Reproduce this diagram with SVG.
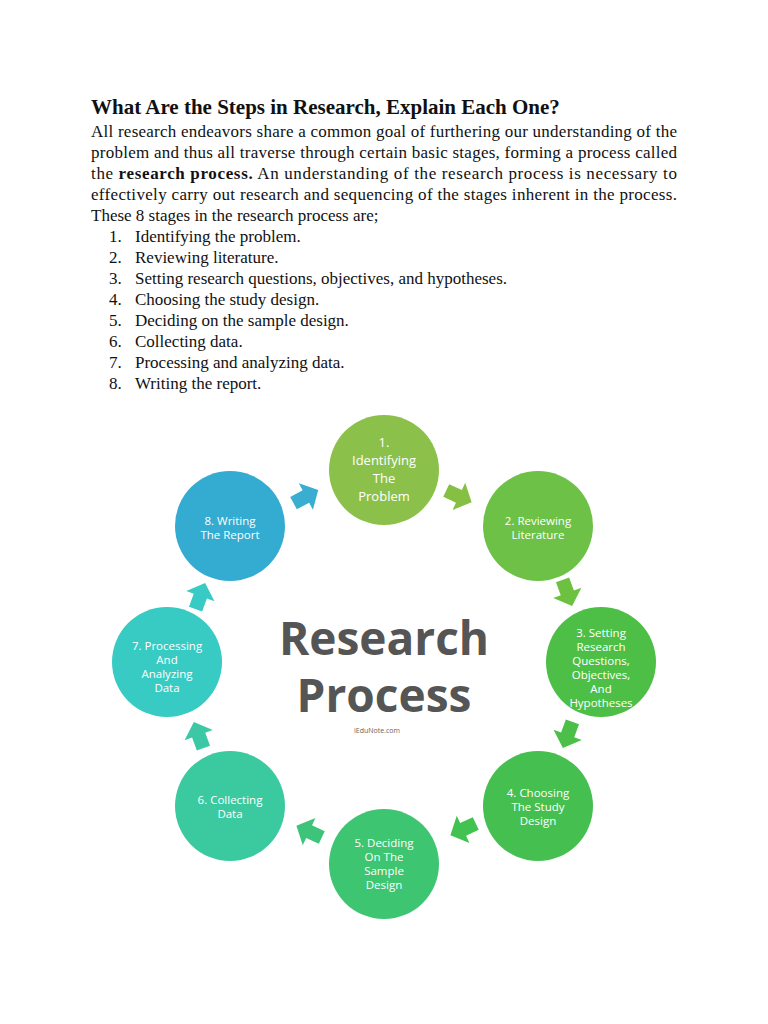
<svg xmlns="http://www.w3.org/2000/svg" width="768" height="1024" viewBox="0 0 768 1024">
<style>
.t{font-family:"Liberation Serif",serif;font-size:17px;fill:#111}
.h{font-family:"Liberation Serif",serif;font-size:21px;font-weight:bold;fill:#111}
.c{font-family:"Open Sans","Noto Sans",sans-serif;font-size:11.5px;fill:#fff;text-anchor:middle}
.big{font-family:"Open Sans","Noto Sans",sans-serif;font-weight:bold;font-size:46px;fill:#555;text-anchor:middle}
</style>
<defs>
<path id="arr" d="M-13,-7 L1,-7 L1,-15 L15,0 L1,15 L1,7 L-13,7 Z"/>
</defs>
<rect width="768" height="1024" fill="#fff"/>
<text class="h" x="91" y="114">What Are the Steps in Research, Explain Each One?</text>
<text class="t" x="91" y="137" textLength="586" lengthAdjust="spacing">All research endeavors share a common goal of furthering our understanding of the</text>
<text class="t" x="91" y="158" textLength="586" lengthAdjust="spacing">problem and thus all traverse through certain basic stages, forming a process called</text>
<text class="t" x="91" y="179" textLength="586" lengthAdjust="spacing">the <tspan font-weight="bold">research process.</tspan> An understanding of the research process is necessary to</text>
<text class="t" x="91" y="200" textLength="586" lengthAdjust="spacing">effectively carry out research and sequencing of the stages inherent in the process.</text>
<text class="t" x="91" y="221">These 8 stages in the research process are;</text>
<g id="list">
<text class="t" x="109" y="242">1.</text><text class="t" x="135" y="242">Identifying the problem.</text>
<text class="t" x="109" y="263">2.</text><text class="t" x="135" y="263">Reviewing literature.</text>
<text class="t" x="109" y="284">3.</text><text class="t" x="135" y="284">Setting research questions, objectives, and hypotheses.</text>
<text class="t" x="109" y="305">4.</text><text class="t" x="135" y="305">Choosing the study design.</text>
<text class="t" x="109" y="326">5.</text><text class="t" x="135" y="326">Deciding on the sample design.</text>
<text class="t" x="109" y="347">6.</text><text class="t" x="135" y="347">Collecting data.</text>
<text class="t" x="109" y="368">7.</text><text class="t" x="135" y="368">Processing and analyzing data.</text>
<text class="t" x="109" y="389">8.</text><text class="t" x="135" y="389">Writing the report.</text>
</g>
<text class="big" x="384" y="655">Research</text>
<text class="big" x="384" y="712">Process</text>
<text x="377" y="733" style="font-family:'Open Sans',sans-serif;font-size:7px;fill:#666;text-anchor:middle">iEduNote.com</text>
<g id="connectors">
<use href="#arr" fill="#3aaed0" transform="translate(305,497) rotate(-28)"/>
<use href="#arr" fill="#86c042" transform="translate(458,496) rotate(25)"/>
<use href="#arr" fill="#6cc140" transform="translate(567,592) rotate(70)"/>
<use href="#arr" fill="#4bbf48" transform="translate(568,734) rotate(110)"/>
<use href="#arr" fill="#42c250" transform="translate(464,829) rotate(155)"/>
<use href="#arr" fill="#3ec47a" transform="translate(310,832) rotate(-155)"/>
<use href="#arr" fill="#3cc8a4" transform="translate(199,736) rotate(-110)"/>
<use href="#arr" fill="#38cac4" transform="translate(200,597) rotate(-70)"/>
</g>
<g id="n1"><circle cx="384" cy="470" r="55" fill="#8bc14a"/><text class="c" style="font-size:13px"><tspan x="384" y="447">1.</tspan><tspan x="384" y="465">Identifying</tspan><tspan x="384" y="483">The</tspan><tspan x="384" y="501">Problem</tspan></text></g>
<g id="n2"><circle cx="538" cy="526" r="55" fill="#6dc146"/><text class="c"><tspan x="538" y="525">2. Reviewing</tspan><tspan x="538" y="539">Literature</tspan></text></g>
<g id="n3"><circle cx="601" cy="662" r="55" fill="#4dbf47"/><text class="c"><tspan x="601" y="637">3. Setting</tspan><tspan x="601" y="651">Research</tspan><tspan x="601" y="665">Questions,</tspan><tspan x="601" y="679">Objectives,</tspan><tspan x="601" y="693">And</tspan><tspan x="601" y="707">Hypotheses</tspan></text></g>
<g id="n4"><circle cx="538" cy="806" r="55" fill="#45c050"/><text class="c"><tspan x="538" y="797">4. Choosing</tspan><tspan x="538" y="811">The Study</tspan><tspan x="538" y="825">Design</tspan></text></g>
<g id="n5"><circle cx="384" cy="864" r="55" fill="#3dc572"/><text class="c"><tspan x="384" y="847">5. Deciding</tspan><tspan x="384" y="861">On The</tspan><tspan x="384" y="875">Sample</tspan><tspan x="384" y="889">Design</tspan></text></g>
<g id="n6"><circle cx="230" cy="806" r="55" fill="#3bcaa0"/><text class="c"><tspan x="230" y="804">6. Collecting</tspan><tspan x="230" y="818">Data</tspan></text></g>
<g id="n7"><circle cx="167" cy="662" r="55" fill="#38cbc3"/><text class="c"><tspan x="167" y="650">7. Processing</tspan><tspan x="167" y="664">And</tspan><tspan x="167" y="678">Analyzing</tspan><tspan x="167" y="692">Data</tspan></text></g>
<g id="n8"><circle cx="230" cy="526" r="55" fill="#34abd0"/><text class="c"><tspan x="230" y="525">8. Writing</tspan><tspan x="230" y="539">The Report</tspan></text></g>
</svg>
